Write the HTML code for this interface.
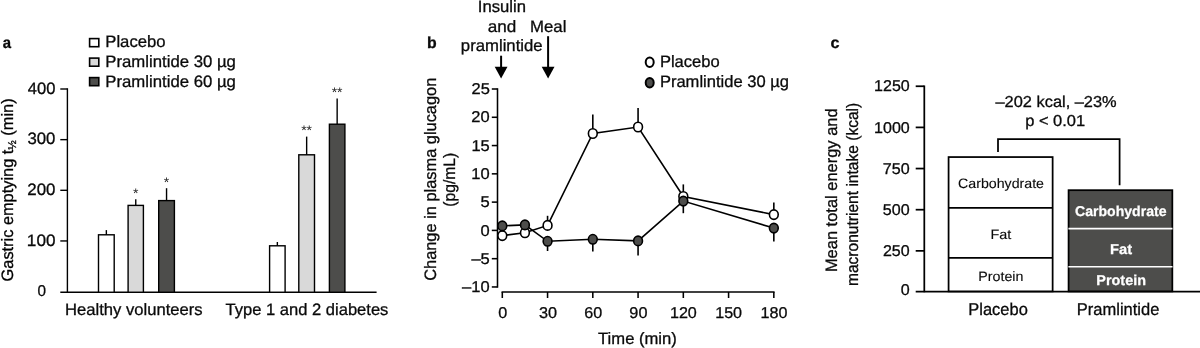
<!DOCTYPE html>
<html><head><meta charset="utf-8"><title>Figure</title>
<style>
html,body{margin:0;padding:0;background:#fff;}
svg{display:block;}
text{font-family:"Liberation Sans",sans-serif;text-rendering:geometricPrecision;stroke:#0a0a0a;stroke-width:0.3px;}
text.w{stroke:#ffffff;stroke-width:0.25px;}
text.s{stroke-width:0.12px;}
text.st{stroke:none;}
</style></head><body>
<svg width="1200" height="348" viewBox="0 0 1200 348">
<rect x="0" y="0" width="1200" height="348" fill="#ffffff"/>
<text x="2.83" y="47.80" font-size="16" textLength="8.28" lengthAdjust="spacingAndGlyphs" fill="#0a0a0a" font-weight="bold">a</text>
<rect x="89.60" y="38.60" width="9.20" height="8.10" fill="#ffffff" stroke="#000000" stroke-width="1.6"/>
<text x="105.28" y="46.70" font-size="16.5" textLength="60.35" lengthAdjust="spacingAndGlyphs" fill="#0a0a0a">Placebo</text>
<rect x="89.60" y="58.10" width="9.20" height="8.10" fill="#d9d9d9" stroke="#000000" stroke-width="1.6"/>
<text x="105.28" y="67.20" font-size="16.5" textLength="130.67" lengthAdjust="spacingAndGlyphs" fill="#0a0a0a">Pramlintide 30 µg</text>
<rect x="89.60" y="77.60" width="9.20" height="8.10" fill="#4d4d4b" stroke="#000000" stroke-width="1.6"/>
<text x="105.28" y="87.40" font-size="16.5" textLength="130.67" lengthAdjust="spacingAndGlyphs" fill="#0a0a0a">Pramlintide 60 µg</text>
<line x1="67.40" y1="88.25" x2="67.40" y2="292.95" stroke="#000000" stroke-width="1.4"/>
<line x1="60.30" y1="292.20" x2="376.60" y2="292.20" stroke="#000000" stroke-width="1.4"/>
<line x1="60.30" y1="240.95" x2="67.40" y2="240.95" stroke="#000000" stroke-width="1.4"/>
<line x1="60.30" y1="190.30" x2="67.40" y2="190.30" stroke="#000000" stroke-width="1.4"/>
<line x1="60.30" y1="139.65" x2="67.40" y2="139.65" stroke="#000000" stroke-width="1.4"/>
<line x1="60.30" y1="89.00" x2="67.40" y2="89.00" stroke="#000000" stroke-width="1.4"/>
<text x="37.52" y="296.20" font-size="15.7" textLength="8.50" lengthAdjust="spacingAndGlyphs" fill="#0a0a0a">0</text>
<text x="26.85" y="245.75" font-size="16.5" textLength="28.60" lengthAdjust="spacingAndGlyphs" fill="#0a0a0a">100</text>
<text x="27.28" y="195.10" font-size="16.5" textLength="28.16" lengthAdjust="spacingAndGlyphs" fill="#0a0a0a">200</text>
<text x="27.49" y="144.45" font-size="16.5" textLength="27.95" lengthAdjust="spacingAndGlyphs" fill="#0a0a0a">300</text>
<text x="27.80" y="93.80" font-size="16.5" textLength="27.63" lengthAdjust="spacingAndGlyphs" fill="#0a0a0a">400</text>
<line x1="106.35" y1="230.10" x2="106.35" y2="235.10" stroke="#000000" stroke-width="1.4"/>
<rect x="98.50" y="234.80" width="15.70" height="57.45" fill="#ffffff" stroke="#000000" stroke-width="1.4"/>
<line x1="135.75" y1="199.30" x2="135.75" y2="205.70" stroke="#000000" stroke-width="1.4"/>
<rect x="128.10" y="205.40" width="15.30" height="86.85" fill="#d9d9d9" stroke="#000000" stroke-width="1.4"/>
<line x1="166.55" y1="188.20" x2="166.55" y2="200.90" stroke="#000000" stroke-width="1.4"/>
<rect x="158.70" y="200.60" width="15.70" height="91.65" fill="#4d4d4b" stroke="#000000" stroke-width="1.4"/>
<line x1="277.35" y1="242.00" x2="277.35" y2="246.10" stroke="#000000" stroke-width="1.4"/>
<rect x="269.60" y="245.80" width="15.50" height="46.45" fill="#ffffff" stroke="#000000" stroke-width="1.4"/>
<line x1="306.65" y1="136.60" x2="306.65" y2="155.10" stroke="#000000" stroke-width="1.4"/>
<rect x="298.80" y="154.80" width="15.70" height="137.45" fill="#d9d9d9" stroke="#000000" stroke-width="1.4"/>
<line x1="337.15" y1="98.60" x2="337.15" y2="124.50" stroke="#000000" stroke-width="1.4"/>
<rect x="329.40" y="124.20" width="15.50" height="168.05" fill="#4d4d4b" stroke="#000000" stroke-width="1.4"/>
<text x="132.95" y="198.08" font-size="14" fill="#1a1a1a" class="st">*</text>
<text x="163.75" y="187.28" font-size="14" fill="#1a1a1a" class="st">*</text>
<text x="301.15" y="134.97" font-size="14" fill="#1a1a1a" class="st">**</text>
<text x="331.65" y="97.27" font-size="14" fill="#1a1a1a" class="st">**</text>
<text x="64.99" y="315.30" font-size="16.5" textLength="137.67" lengthAdjust="spacingAndGlyphs" fill="#0a0a0a">Healthy volunteers</text>
<text x="225.50" y="315.20" font-size="16.5" textLength="162.88" lengthAdjust="spacingAndGlyphs" fill="#0a0a0a">Type 1 and 2 diabetes</text>
<text transform="translate(12.6,280.6) rotate(-90)" x="-0.8" y="0" font-size="16.5" fill="#000000" textLength="183" lengthAdjust="spacingAndGlyphs">Gastric emptying t<tspan font-size="11.5" dy="3.5">½</tspan><tspan dy="-3.5"> (min)</tspan></text>
<text x="427.01" y="48.30" font-size="16" textLength="9.65" lengthAdjust="spacingAndGlyphs" fill="#0a0a0a" font-weight="bold">b</text>
<text x="477.89" y="11.70" font-size="16.5" textLength="48.12" lengthAdjust="spacingAndGlyphs" fill="#0a0a0a">Insulin</text>
<text x="487.68" y="31.80" font-size="16.5" textLength="28.49" lengthAdjust="spacingAndGlyphs" fill="#0a0a0a">and</text>
<text x="529.98" y="31.80" font-size="16.5" textLength="36.41" lengthAdjust="spacingAndGlyphs" fill="#0a0a0a">Meal</text>
<text x="460.89" y="51.10" font-size="16.5" textLength="81.73" lengthAdjust="spacingAndGlyphs" fill="#0a0a0a">pramlintide</text>
<line x1="501.10" y1="55.70" x2="501.10" y2="68.00" stroke="#000000" stroke-width="2"/>
<path d="M494.70 66.8 L507.50 66.8 L501.10 78.4 Z" fill="#000000" stroke="none" stroke-width="1.55"/>
<line x1="548.10" y1="36.20" x2="548.10" y2="68.00" stroke="#000000" stroke-width="2"/>
<path d="M541.70 66.8 L554.50 66.8 L548.10 78.4 Z" fill="#000000" stroke="none" stroke-width="1.55"/>
<line x1="497.50" y1="88.25" x2="497.50" y2="287.71" stroke="#000000" stroke-width="1.55"/>
<line x1="491.80" y1="89.00" x2="497.50" y2="89.00" stroke="#000000" stroke-width="1.55"/>
<text x="471.47" y="94.10" font-size="15.7" textLength="18.33" lengthAdjust="spacingAndGlyphs" fill="#0a0a0a">25</text>
<line x1="491.80" y1="117.28" x2="497.50" y2="117.28" stroke="#000000" stroke-width="1.55"/>
<text x="471.37" y="122.38" font-size="15.7" textLength="18.32" lengthAdjust="spacingAndGlyphs" fill="#0a0a0a">20</text>
<line x1="491.80" y1="145.56" x2="497.50" y2="145.56" stroke="#000000" stroke-width="1.55"/>
<text x="471.44" y="150.66" font-size="15.7" textLength="18.35" lengthAdjust="spacingAndGlyphs" fill="#0a0a0a">15</text>
<line x1="491.80" y1="173.84" x2="497.50" y2="173.84" stroke="#000000" stroke-width="1.55"/>
<text x="471.34" y="178.94" font-size="15.7" textLength="18.35" lengthAdjust="spacingAndGlyphs" fill="#0a0a0a">10</text>
<line x1="491.80" y1="202.12" x2="497.50" y2="202.12" stroke="#000000" stroke-width="1.55"/>
<text x="480.57" y="207.22" font-size="15.7" textLength="9.20" lengthAdjust="spacingAndGlyphs" fill="#0a0a0a">5</text>
<line x1="491.80" y1="230.40" x2="497.50" y2="230.40" stroke="#000000" stroke-width="1.55"/>
<text x="480.47" y="235.50" font-size="15.7" textLength="9.19" lengthAdjust="spacingAndGlyphs" fill="#0a0a0a">0</text>
<line x1="491.80" y1="258.68" x2="497.50" y2="258.68" stroke="#000000" stroke-width="1.55"/>
<text x="471.40" y="263.78" font-size="15.7" textLength="18.40" lengthAdjust="spacingAndGlyphs" fill="#0a0a0a">–5</text>
<line x1="491.80" y1="286.96" x2="497.50" y2="286.96" stroke="#000000" stroke-width="1.55"/>
<text x="462.10" y="292.06" font-size="15.7" textLength="27.52" lengthAdjust="spacingAndGlyphs" fill="#0a0a0a">–10</text>
<line x1="501.55" y1="292.00" x2="774.58" y2="292.00" stroke="#000000" stroke-width="1.7"/>
<line x1="502.30" y1="292.00" x2="502.30" y2="298.00" stroke="#000000" stroke-width="1.55"/>
<text x="498.16" y="317.80" font-size="15.7" textLength="9.01" lengthAdjust="spacingAndGlyphs" fill="#0a0a0a">0</text>
<line x1="547.56" y1="292.00" x2="547.56" y2="298.00" stroke="#000000" stroke-width="1.55"/>
<text x="538.91" y="317.80" font-size="15.7" textLength="18.06" lengthAdjust="spacingAndGlyphs" fill="#0a0a0a">30</text>
<line x1="592.81" y1="292.00" x2="592.81" y2="298.00" stroke="#000000" stroke-width="1.55"/>
<text x="584.16" y="317.80" font-size="15.7" textLength="17.96" lengthAdjust="spacingAndGlyphs" fill="#0a0a0a">60</text>
<line x1="638.07" y1="292.00" x2="638.07" y2="298.00" stroke="#000000" stroke-width="1.55"/>
<text x="629.36" y="317.80" font-size="15.7" textLength="18.06" lengthAdjust="spacingAndGlyphs" fill="#0a0a0a">90</text>
<line x1="683.32" y1="292.00" x2="683.32" y2="298.00" stroke="#000000" stroke-width="1.55"/>
<text x="669.95" y="317.80" font-size="15.7" textLength="26.92" lengthAdjust="spacingAndGlyphs" fill="#0a0a0a">120</text>
<line x1="728.58" y1="292.00" x2="728.58" y2="298.00" stroke="#000000" stroke-width="1.55"/>
<text x="715.20" y="317.80" font-size="15.7" textLength="26.92" lengthAdjust="spacingAndGlyphs" fill="#0a0a0a">150</text>
<line x1="773.83" y1="292.00" x2="773.83" y2="298.00" stroke="#000000" stroke-width="1.55"/>
<text x="760.46" y="317.80" font-size="15.7" textLength="26.92" lengthAdjust="spacingAndGlyphs" fill="#0a0a0a">180</text>
<text x="598.10" y="344.30" font-size="16.5" textLength="78.72" lengthAdjust="spacingAndGlyphs" fill="#0a0a0a">Time (min)</text>
<line x1="547.56" y1="225.40" x2="547.56" y2="215.80" stroke="#000000" stroke-width="1.6"/>
<line x1="592.81" y1="133.50" x2="592.81" y2="114.50" stroke="#000000" stroke-width="1.6"/>
<line x1="638.07" y1="127.00" x2="638.07" y2="108.10" stroke="#000000" stroke-width="1.6"/>
<line x1="683.32" y1="196.50" x2="683.32" y2="184.40" stroke="#000000" stroke-width="1.6"/>
<line x1="773.83" y1="214.60" x2="773.83" y2="202.60" stroke="#000000" stroke-width="1.6"/>
<path d="M502.30 235.60 L524.93 232.80 L547.56 225.40 L592.81 133.50 L638.07 127.00 L683.32 196.50 L773.83 214.60" fill="none" stroke="#000000" stroke-width="1.6"/>
<ellipse cx="502.30" cy="235.60" rx="4.4" ry="4.75" fill="#ffffff" stroke="#000000" stroke-width="1.6"/>
<ellipse cx="524.93" cy="232.80" rx="4.4" ry="4.75" fill="#ffffff" stroke="#000000" stroke-width="1.6"/>
<ellipse cx="547.56" cy="225.40" rx="4.4" ry="4.75" fill="#ffffff" stroke="#000000" stroke-width="1.6"/>
<ellipse cx="592.81" cy="133.50" rx="4.4" ry="4.75" fill="#ffffff" stroke="#000000" stroke-width="1.6"/>
<ellipse cx="638.07" cy="127.00" rx="4.4" ry="4.75" fill="#ffffff" stroke="#000000" stroke-width="1.6"/>
<ellipse cx="683.32" cy="196.50" rx="4.4" ry="4.75" fill="#ffffff" stroke="#000000" stroke-width="1.6"/>
<ellipse cx="773.83" cy="214.60" rx="4.4" ry="4.75" fill="#ffffff" stroke="#000000" stroke-width="1.6"/>
<line x1="547.56" y1="241.30" x2="547.56" y2="251.00" stroke="#000000" stroke-width="1.6"/>
<line x1="592.81" y1="239.30" x2="592.81" y2="251.40" stroke="#000000" stroke-width="1.6"/>
<line x1="638.07" y1="240.90" x2="638.07" y2="255.40" stroke="#000000" stroke-width="1.6"/>
<line x1="683.32" y1="201.10" x2="683.32" y2="213.20" stroke="#000000" stroke-width="1.6"/>
<line x1="773.83" y1="228.10" x2="773.83" y2="241.40" stroke="#000000" stroke-width="1.6"/>
<path d="M502.30 225.90 L524.93 224.90 L547.56 241.30 L592.81 239.30 L638.07 240.90 L683.32 201.10 L773.83 228.10" fill="none" stroke="#000000" stroke-width="1.6"/>
<ellipse cx="502.30" cy="225.90" rx="4.4" ry="4.75" fill="#4d4d4b" stroke="#000000" stroke-width="1.6"/>
<ellipse cx="524.93" cy="224.90" rx="4.4" ry="4.75" fill="#4d4d4b" stroke="#000000" stroke-width="1.6"/>
<ellipse cx="547.56" cy="241.30" rx="4.4" ry="4.75" fill="#4d4d4b" stroke="#000000" stroke-width="1.6"/>
<ellipse cx="592.81" cy="239.30" rx="4.4" ry="4.75" fill="#4d4d4b" stroke="#000000" stroke-width="1.6"/>
<ellipse cx="638.07" cy="240.90" rx="4.4" ry="4.75" fill="#4d4d4b" stroke="#000000" stroke-width="1.6"/>
<ellipse cx="683.32" cy="201.10" rx="4.4" ry="4.75" fill="#4d4d4b" stroke="#000000" stroke-width="1.6"/>
<ellipse cx="773.83" cy="228.10" rx="4.4" ry="4.75" fill="#4d4d4b" stroke="#000000" stroke-width="1.6"/>
<ellipse cx="649.7" cy="62.2" rx="4.0" ry="4.7" fill="#fff" stroke="#000000" stroke-width="2"/>
<ellipse cx="649.7" cy="82.8" rx="4.0" ry="4.7" fill="#4d4d4b" stroke="#000000" stroke-width="2"/>
<text x="659.90" y="67.20" font-size="16.5" textLength="59.73" lengthAdjust="spacingAndGlyphs" fill="#0a0a0a">Placebo</text>
<text x="659.90" y="87.30" font-size="16.5" textLength="129.04" lengthAdjust="spacingAndGlyphs" fill="#0a0a0a">Pramlintide 30 µg</text>
<text transform="translate(435.80,280.00) rotate(-90)" x="-0.79" y="0" font-size="16.5" textLength="203.05" lengthAdjust="spacingAndGlyphs" fill="#0a0a0a">Change in plasma glucagon</text>
<text transform="translate(454.60,205.90) rotate(-90)" x="-0.95" y="0" font-size="16.5" textLength="54.16" lengthAdjust="spacingAndGlyphs" fill="#0a0a0a">(pg/mL)</text>
<text x="830.49" y="47.80" font-size="16" textLength="9.01" lengthAdjust="spacingAndGlyphs" fill="#0a0a0a" font-weight="bold">c</text>
<line x1="924.30" y1="85.50" x2="924.30" y2="292.25" stroke="#000000" stroke-width="1.75"/>
<line x1="915.70" y1="291.50" x2="1200.00" y2="291.50" stroke="#000000" stroke-width="1.75"/>
<line x1="915.70" y1="250.85" x2="924.30" y2="250.85" stroke="#000000" stroke-width="1.75"/>
<line x1="915.70" y1="209.70" x2="924.30" y2="209.70" stroke="#000000" stroke-width="1.75"/>
<line x1="915.70" y1="168.55" x2="924.30" y2="168.55" stroke="#000000" stroke-width="1.75"/>
<line x1="915.70" y1="127.40" x2="924.30" y2="127.40" stroke="#000000" stroke-width="1.75"/>
<line x1="915.70" y1="86.25" x2="924.30" y2="86.25" stroke="#000000" stroke-width="1.75"/>
<text x="900.78" y="295.00" font-size="15.7" textLength="8.96" lengthAdjust="spacingAndGlyphs" fill="#0a0a0a">0</text>
<text x="882.94" y="256.05" font-size="15.7" textLength="26.76" lengthAdjust="spacingAndGlyphs" fill="#0a0a0a">250</text>
<text x="882.84" y="214.90" font-size="15.7" textLength="26.86" lengthAdjust="spacingAndGlyphs" fill="#0a0a0a">500</text>
<text x="882.83" y="173.75" font-size="15.7" textLength="26.87" lengthAdjust="spacingAndGlyphs" fill="#0a0a0a">750</text>
<text x="874.05" y="132.60" font-size="15.7" textLength="35.69" lengthAdjust="spacingAndGlyphs" fill="#0a0a0a">1000</text>
<text x="874.05" y="91.45" font-size="15.7" textLength="35.69" lengthAdjust="spacingAndGlyphs" fill="#0a0a0a">1250</text>
<rect x="948.58" y="157.07" width="104.05" height="134.30" fill="#ffffff" stroke="#000000" stroke-width="1.75"/>
<line x1="948.40" y1="207.80" x2="1052.80" y2="207.80" stroke="#000000" stroke-width="1.75"/>
<line x1="948.40" y1="257.80" x2="1052.80" y2="257.80" stroke="#000000" stroke-width="1.75"/>
<text x="958.07" y="187.60" font-size="13.6" textLength="85.96" lengthAdjust="spacingAndGlyphs" fill="#0a0a0a" class="s">Carbohydrate</text>
<text x="990.53" y="238.90" font-size="13.6" textLength="20.82" lengthAdjust="spacingAndGlyphs" fill="#0a0a0a" class="s">Fat</text>
<text x="978.25" y="281.00" font-size="13.6" textLength="45.19" lengthAdjust="spacingAndGlyphs" fill="#0a0a0a" class="s">Protein</text>
<rect x="1068.58" y="190.18" width="103.75" height="101.20" fill="#4d4d4b" stroke="#000000" stroke-width="1.75"/>
<line x1="1068.40" y1="228.60" x2="1172.50" y2="228.60" stroke="#ffffff" stroke-width="1.6"/>
<line x1="1068.40" y1="266.80" x2="1172.50" y2="266.80" stroke="#ffffff" stroke-width="1.6"/>
<text x="1075.10" y="215.50" font-size="14.2" textLength="91.41" lengthAdjust="spacingAndGlyphs" fill="#ffffff" font-weight="bold" class="w">Carbohydrate</text>
<text x="1110.07" y="254.00" font-size="14.2" textLength="22.03" lengthAdjust="spacingAndGlyphs" fill="#ffffff" font-weight="bold" class="w">Fat</text>
<text x="1096.39" y="285.00" font-size="14.2" textLength="49.54" lengthAdjust="spacingAndGlyphs" fill="#ffffff" font-weight="bold" class="w">Protein</text>
<text x="968.34" y="314.80" font-size="17" textLength="59.47" lengthAdjust="spacingAndGlyphs" fill="#0a0a0a">Placebo</text>
<text x="1076.84" y="314.50" font-size="17" textLength="82.57" lengthAdjust="spacingAndGlyphs" fill="#0a0a0a">Pramlintide</text>
<text x="995.50" y="106.80" font-size="15.8" textLength="121.15" lengthAdjust="spacingAndGlyphs" fill="#0a0a0a">–202 kcal, –23%</text>
<text x="1025.16" y="126.00" font-size="15.8" textLength="60.01" lengthAdjust="spacingAndGlyphs" fill="#0a0a0a">p &lt; 0.01</text>
<path d="M998 152 V139 H1119.6 V185.2" fill="none" stroke="#000000" stroke-width="1.75"/>
<text transform="translate(836.70,270.80) rotate(-90)" x="-1.30" y="0" font-size="16.5" textLength="163.69" lengthAdjust="spacingAndGlyphs" fill="#0a0a0a">Mean total energy and</text>
<text transform="translate(858.30,285.10) rotate(-90)" x="-0.94" y="0" font-size="16.5" textLength="183.30" lengthAdjust="spacingAndGlyphs" fill="#0a0a0a">macronutrient intake (kcal)</text>
</svg>
</body></html>
